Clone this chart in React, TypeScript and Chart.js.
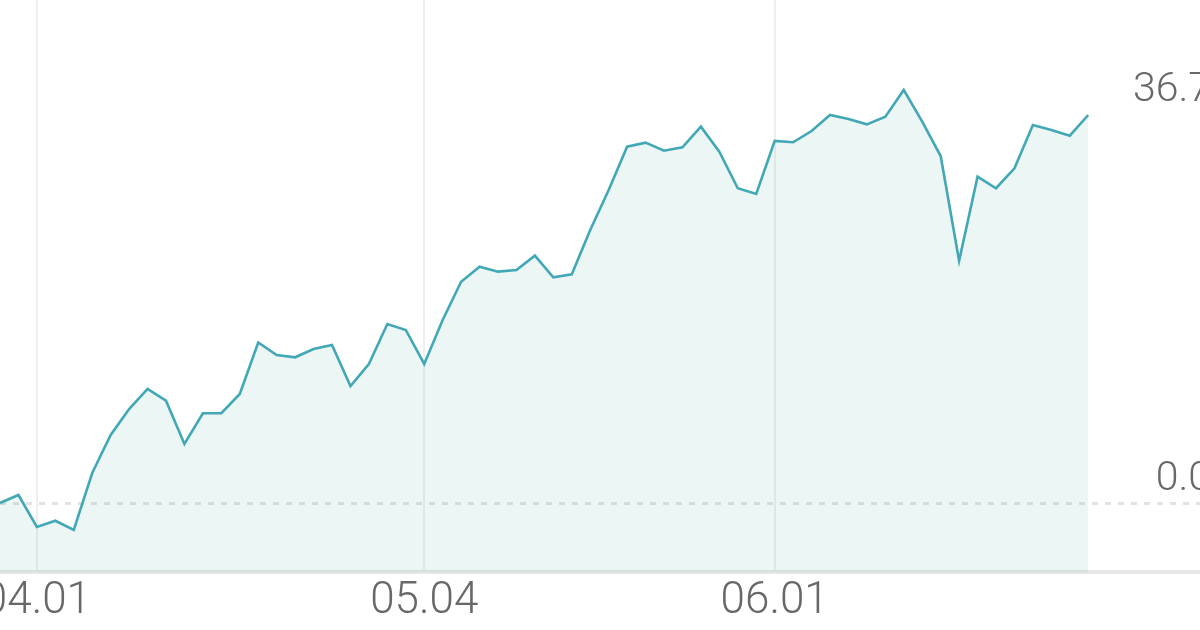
import React, { useEffect, useRef } from 'react';
import { Chart, registerables } from 'chart.js';

Chart.register(...registerables);

// daily return (%) by trading day, first point sits at the left edge
const returns = [
  0.09, 0.85, -2.17, -1.58, -2.45, 2.92, 6.51, 8.96, 10.85, 9.75,
  5.66, 8.56, 8.56, 10.38, 15.24, 14.06, 13.84, 14.62, 15.0, 11.13,
  13.21, 16.98, 16.42, 13.21, 17.36, 20.97, 22.39, 21.92, 22.08, 23.43,
  21.39, 21.67, 25.85, 29.63, 33.71, 34.09, 33.33, 33.65, 35.6, 33.24,
  29.79, 29.25, 34.25, 34.13, 35.19, 36.7, 36.32, 35.82, 36.54, 39.06,
  36.07, 32.83, 22.95, 30.88, 29.79, 31.67, 35.76, 35.29, 34.75, 36.7,
];

// x ticks: index into returns + date label
const tickIndex = [2, 23, 42];
const tickLabels = ['04.01', '05.04', '06.01'];

// y marks shown at the right: zero and latest value
const yMarks = [0, 36.7];

const LINE = '#42a8b5';
const TEXT = '#686868';

const rightLabels = {
  id: 'rightLabels',
  afterDraw(chart: Chart) {
    const ctx = chart.ctx;
    const y = chart.scales.y;
    ctx.save();
    ctx.font = '300 41px Roboto';
    ctx.fillStyle = TEXT;
    ctx.textAlign = 'right';
    ctx.textBaseline = 'alphabetic';
    yMarks.forEach((v) => {
      ctx.fillText(v.toFixed(1), 1211, y.getPixelForValue(v) - 14);
    });
    ctx.restore();
  },
};

const App: React.FC = () => {
  const canvasRef = useRef<HTMLCanvasElement | null>(null);
  const chartRef = useRef<Chart | null>(null);

  useEffect(() => {
    if (!canvasRef.current) return;
    if (chartRef.current) chartRef.current.destroy();

    chartRef.current = new Chart(canvasRef.current, {
      type: 'line',
      data: {
        datasets: [{
          data: returns.map((v, i) => ({ x: i, y: v })),
          borderColor: LINE,
          backgroundColor: 'rgba(60, 170, 160, 0.1)',
          borderWidth: 2.6,
          pointRadius: 0,
          tension: 0,
          fill: 'start',
        }],
      },
      options: {
        responsive: true,
        maintainAspectRatio: false,
        animation: false,
        layout: { padding: 0 },
        plugins: { legend: { display: false }, tooltip: { enabled: false } },
        scales: {
          x: {
            type: 'linear',
            min: 0,
            max: 65.06,
            afterBuildTicks: (s: any) => { s.ticks = tickIndex.map((v) => ({ value: v })); },
            afterFit: (s: any) => {
              s.height = 58;
              // let the first label run off the left edge like the original crop
              s.paddingLeft = 0;
              s.paddingRight = 0;
            },
            ticks: {
              autoSkip: false,
              maxRotation: 0,
              padding: 4,
              color: TEXT,
              font: { family: 'Roboto', size: 44, weight: 300 },
              callback: (v: any) => tickLabels[tickIndex.indexOf(v)] ?? '',
            },
            grid: { color: '#efefef', lineWidth: 2, drawTicks: false },
            border: { display: true, color: '#e6e6e6', width: 4 },
          },
          y: {
            min: -6.416,
            max: 47.55,
            afterBuildTicks: (s: any) => { s.ticks = yMarks.map((v) => ({ value: v })); },
            afterFit: (s: any) => { s.width = 0; },
            ticks: { display: false },
            grid: {
              drawTicks: false,
              lineWidth: 3,
              color: (c: any) => (c.tick && c.tick.value === 0 ? '#e2e2e2' : 'rgba(0,0,0,0)'),
            },
            border: { display: false, dash: [6, 7] },
          },
        },
      },
      plugins: [rightLabels],
    });

    return () => {
      chartRef.current?.destroy();
      chartRef.current = null;
    };
  }, []);

  return (
    <div style={{ position: 'fixed', left: 0, top: 0, width: 1200, height: 630, background: '#fff' }}>
      <canvas ref={canvasRef}></canvas>
    </div>
  );
};

export default App;
